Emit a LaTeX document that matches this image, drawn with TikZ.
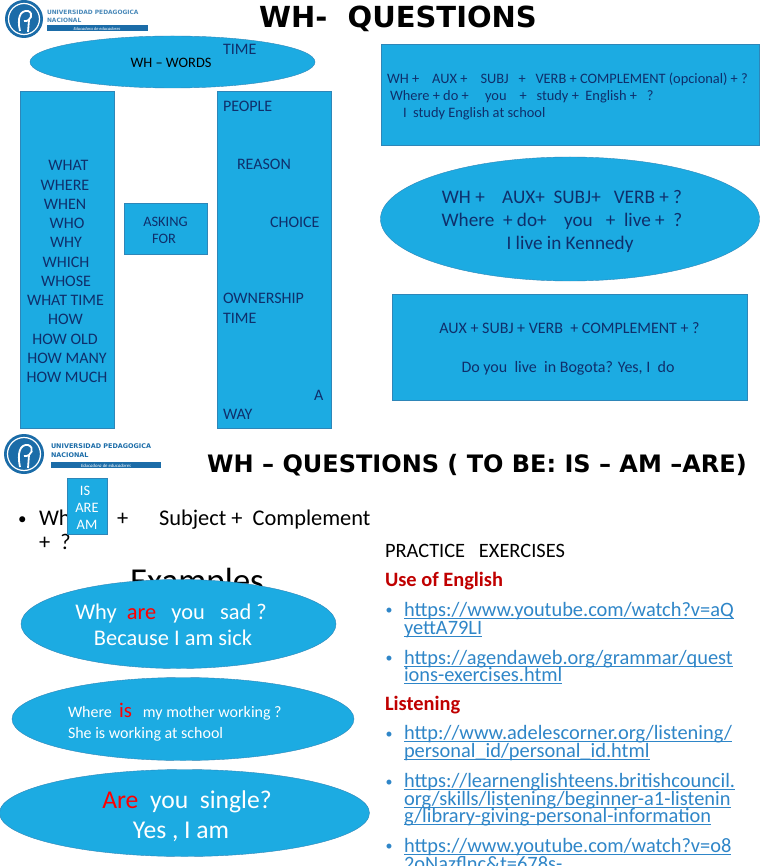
\documentclass[tikz,border=0pt]{standalone}
\usepackage{fontspec}
\setmainfont{Carlito}
\newfontfamily\titlefont{DejaVu Sans}
\definecolor{shapeblue}{HTML}{1CABE2}
\definecolor{edgeblue}{HTML}{2E86B8}
\definecolor{navy}{HTML}{0F2F6B}
\definecolor{linkblue}{HTML}{2F86C8}
\definecolor{headred}{HTML}{C00000}
\definecolor{logoblue}{HTML}{1B6CA8}
\newcommand{\fs}[1]{\fontsize{#1}{#1}\selectfont}
\newsavebox{\lnkbox}
\newcommand{\lnk}[1]{\sbox{\lnkbox}{#1}\rlap{\rule[-2.4pt]{\wd\lnkbox}{0.9pt}}\usebox{\lnkbox}}
\tikzset{x=1pt,y=-1pt,
 box/.style={draw=edgeblue,line width=0.6pt,fill=shapeblue,inner sep=0pt},
 oval/.style={draw=edgeblue,line width=0.4pt,fill=shapeblue},
 lab/.style={anchor=base west,inner sep=0pt,outer sep=0pt,yshift=-0.8pt},
 clab/.style={anchor=base,inner sep=0pt,outer sep=0pt,yshift=-0.8pt},
 navytxt/.style={text=navy},
 linktxt/.style={lab,text=linkblue,font=\fs{20.4}},
}
\begin{document}
\begin{tikzpicture}
\useasboundingbox (0,0) rectangle (768,866);
\clip (0,0) rectangle (768,866);
\fill[white] (0,0) rectangle (768,866);
% titles
\node[clab,font=\titlefont\bfseries\fs{29}] (t1) at (398,27) {WH-\ \ QUESTIONS};
\node[clab,font=\titlefont\bfseries\fs{24}] (t2) at (477,472) {WH – QUESTIONS ( TO BE: IS – AM –ARE)};
% logo 1
\fill[logoblue] (24,19) circle (19);
\draw[white,line width=1.2pt] (24,19) circle (15.5);
\draw[white,line width=1.8pt] (20,31) .. controls (17,18) and (20,10) .. (28,11) .. controls (34,13) and (31,22) .. (24,21);
\draw[white,line width=1.8pt] (28,32) -- (29,20);
\node[lab,text=logoblue!80,font=\titlefont\bfseries\fs{5.9}] (l1a) at (47,13.5) {UNIVERSIDAD PEDAGOGICA};
\node[lab,text=logoblue!80,font=\titlefont\bfseries\fs{5.9}] (l1b) at (47,21.5) {NACIONAL};
\fill[logoblue] (47,25.5) rectangle (148,31);
\node[clab,text=white,font=\itshape\fs{4.5}] (l1c) at (97,30) {Educadora de educadores};
% logo 2
\fill[logoblue] (24,454) circle (20);
\draw[white,line width=1.2pt] (24,454) circle (16.5);
\draw[white,line width=1.8pt] (20,467) .. controls (17,453) and (20,444) .. (28,445) .. controls (35,447) and (32,457) .. (24,456);
\draw[white,line width=1.8pt] (28,468) -- (29,455);
\node[lab,text=logoblue,font=\titlefont\bfseries\fs{6.45}] (l2a) at (51,448) {UNIVERSIDAD PEDAGOGICA};
\node[lab,text=logoblue,font=\titlefont\bfseries\fs{6.45}] (l2b) at (51,457) {NACIONAL};
\fill[logoblue] (51,461.5) rectangle (161,467.5);
\node[clab,text=white,font=\itshape\fs{4.8}] (l2c) at (106,466.5) {Educadora de educadores};
% top-left shapes
\draw[oval] (172.5,62) ellipse (142.5 and 26);
\node[clab,text=black,font=\fs{14.4}] (wh) at (171,67) {WH – WORDS};
\node[lab,navytxt,font=\fs{16}] (time) at (223,53.5) {TIME};
\draw[box] (20.5,91.5) rectangle (114.5,428.5);
\foreach \t/\x/\y in {WHAT/68.5/170,WHERE/65/189.3,WHEN/65/208.6,WHO/67/227.9,WHY/66/247.2,WHICH/66/266.5,WHOSE/66/285.8,WHAT TIME/65.5/304.6,HOW/65.5/324,HOW OLD/65/343.2,HOW MANY/67/362.5,HOW MUCH/67/381.8}
  \node[clab,navytxt,font=\fs{16}] at (\x,\y) {\t};
\draw[box] (124.5,203.5) rectangle (207.5,254.5);
\node[clab,navytxt,font=\fs{14.4}] (ask1) at (165.5,226) {ASKING};
\node[clab,navytxt,font=\fs{14.4}] (ask2) at (164,243) {FOR};
\draw[box] (217.5,91.5) rectangle (331.5,428.5);
\foreach \t/\x/\y in {PEOPLE/223/111,REASON/237/169,CHOICE/270/227,OWNERSHIP/223/303,TIME/223/322.5,A/314/399.5,WAY/223/418.5}
  \node[lab,navytxt,font=\fs{16}] at (\x,\y) {\t};
% top-right shapes
\draw[box] (381.5,44.5) rectangle (759.5,145);
\node[lab,navytxt,font=\fs{14.4}] (r1) at (387,83) {WH +\ \ \ \ AUX +\ \ \ \ SUBJ\ \ \ +\ \ \ VERB + COMPLEMENT (opcional) + ?};
\node[lab,navytxt,font=\fs{14.4}] (r2) at (390,100) {Where + do +\ \ \ \ \ you\ \ \ \ +\ \ \ study +\ \ English +\ \ \ ?};
\node[lab,navytxt,font=\fs{14.4}] (r3) at (403,117) {I\ \ study English at school};
\draw[oval] (570,219) ellipse (189.5 and 62);
\node[clab,navytxt,font=\fs{19.2}] (e1) at (562,203) {WH +\ \ \ \ AUX+\ \ SUBJ+\ \ \ VERB + ?};
\node[clab,navytxt,font=\fs{19.2}] (e2) at (562,225.5) {Where\ \ + do+\ \ \ \ you\ \ \ +\ \ live +\ \ ?};
\node[clab,navytxt,font=\fs{19.2}] (e3) at (570,248.5) {I live in Kennedy};
\draw[box] (392.5,294.5) rectangle (747.5,400);
\node[clab,navytxt,font=\fs{16}] (b1) at (569.5,333) {AUX + SUBJ + VERB\ \ + COMPLEMENT + ?};
\node[clab,navytxt,font=\fs{16}] (b2) at (568,372) {Do you\ \ live\ \ in Bogota? Yes, I\ \ do};
% bullet text
\node[lab,font=\fs{17}] (bu) at (18,524) {•};
\node[lab,font=\fs{22.4}] (wh2) at (39,525) {Wh};
\node[lab,font=\fs{22.4}] (pl) at (117,525) {+};
\node[lab,font=\fs{22.4}] (sc) at (159,525) {Subject +\ \ Complement};
\node[lab,font=\fs{22.4}] (pq) at (39,549) {+\ \ ?};
\draw[box] (67,478) rectangle (107.5,534.5);
\node[clab,text=white,font=\fs{14.4}] (is) at (85,495) {IS};
\node[clab,text=white,font=\fs{14.4}] (are) at (87,512) {ARE};
\node[clab,text=white,font=\fs{14.4}] (am) at (87,529) {AM};
% examples
\node[clab,font=\fs{35}] (ex) at (197,592) {Examples};
\draw[oval] (178.5,624) ellipse (157.5 and 44.5);
\node[clab,text=white,font=\fs{22.4}] (x1) at (171,619) {Why\ \ \textcolor{red}{are}\ \ \ you\ \ \ sad ?};
\node[clab,text=white,font=\fs{22.4}] (x2) at (173,645) {Because I am sick};
\draw[oval] (183,719) ellipse (171 and 41.5);
\node[lab,text=white,font=\fs{16}] (y1) at (68,717) {Where\ \ \textcolor{red}{\fs{20.8}is}\ \ \ my mother working ?};
\node[lab,text=white,font=\fs{16}] (y2) at (68,738) {She is working at school};
\draw[oval] (184.5,813) ellipse (185 and 43.5);
\node[clab,text=white,font=\fs{25.6}] (z1) at (187,808) {\textcolor{red}{Are}\ \ you\ \ single?};
\node[clab,text=white,font=\fs{25.6}] (z2) at (181,838) {Yes , I am};
% practice
\node[lab,text=black,font=\fs{20.4}] (p0) at (385,557) {PRACTICE\ \ \ EXERCISES};
\node[lab,text=headred,font=\bfseries\fs{20.4}] (p1) at (385,586) {Use of English};
\node[lab,text=headred,font=\bfseries\fs{20.4}] (p2) at (385,709.5) {Listening};
\foreach \y in {614,662,738,786,850} \node[lab,text=linkblue,font=\fs{14}] at (385.5,\y) {•};
\foreach \t/\y in {{https://www.youtube.com/watch?v=aQ}/616,{yettA79LI}/634,{https://agendaweb.org/grammar/quest}/664,{ions-exercises.html}/681,{http://www.adelescorner.org/listening/}/739,{personal\_id/personal\_id.html}/757,{https://learnenglishteens.britishcouncil.}/787,{org/skills/listening/beginner-a1-listenin}/804.5,{g/library-giving-personal-information}/822,{https://www.youtube.com/watch?v=o8}/852,{2oNazflnc\&t=678s-}/870}
  \node[linktxt] at (404,\y) {\lnk{\t}};
\end{tikzpicture}
\end{document}
